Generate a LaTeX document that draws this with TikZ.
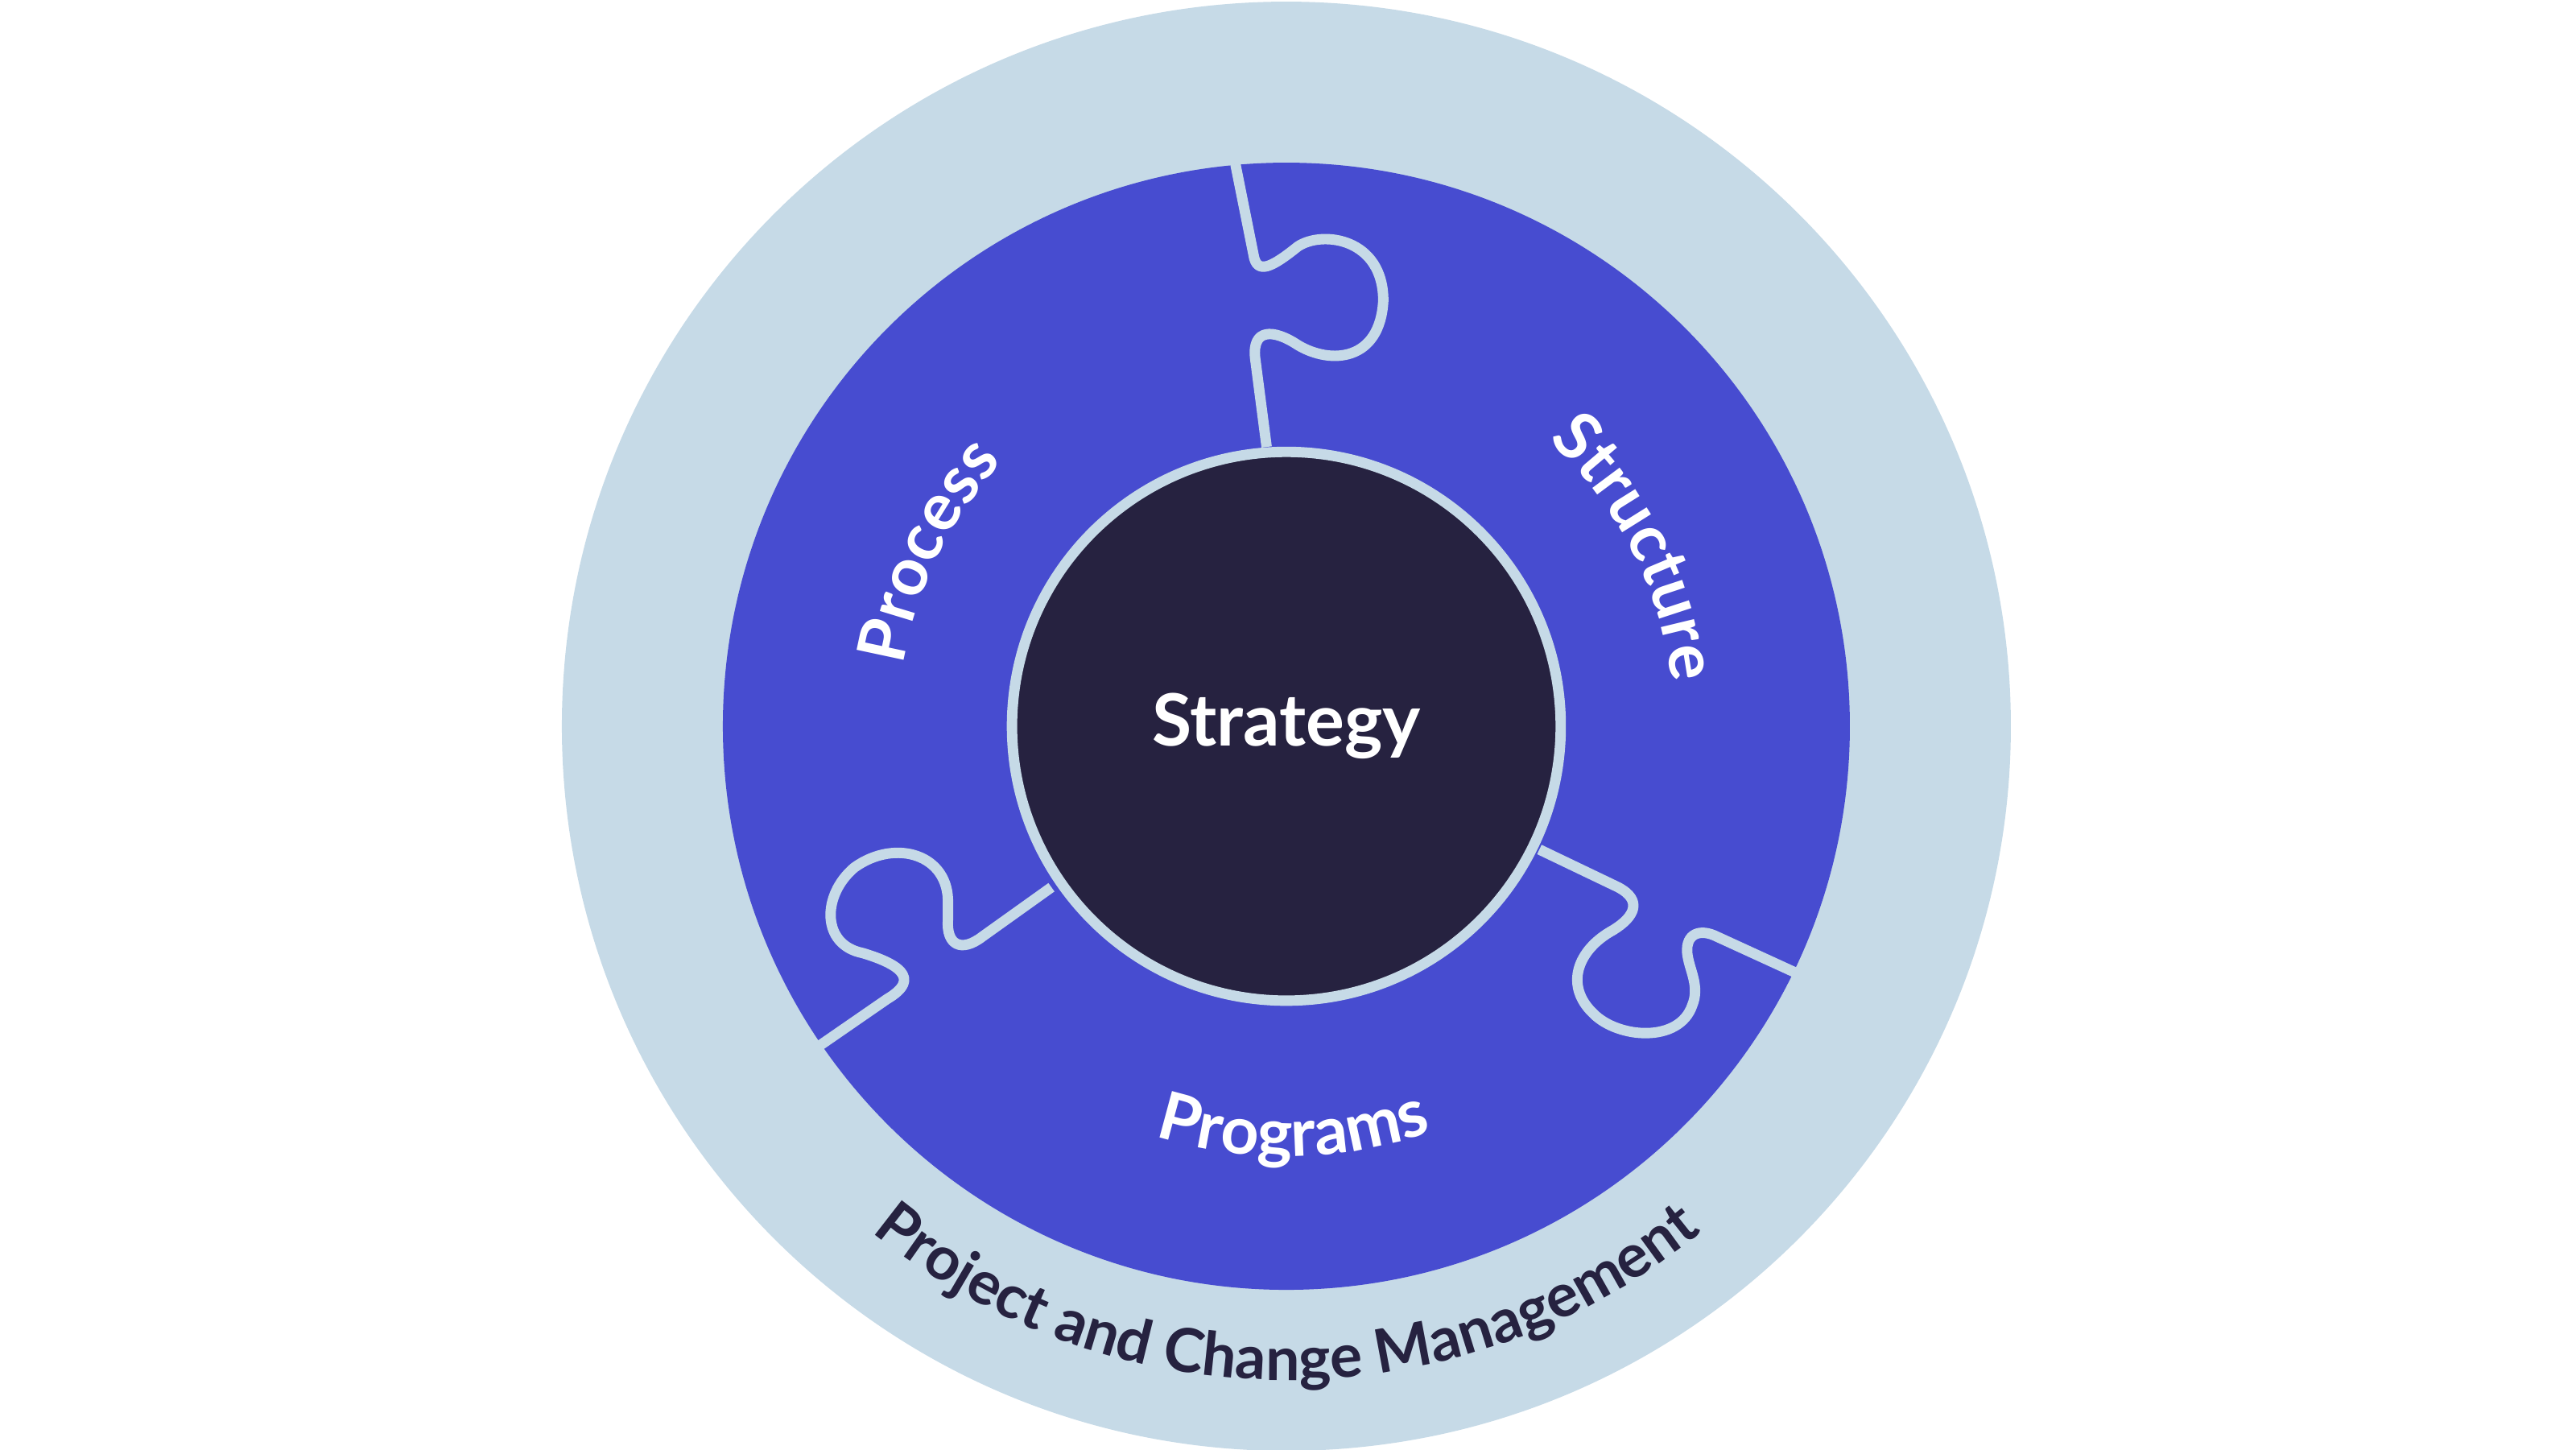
\documentclass[tikz,border=0pt]{standalone}
\usepackage{fontspec}
\setmainfont{Lato}
\usetikzlibrary{decorations.text}
\definecolor{ringc}{HTML}{C6DAE7}
\definecolor{bluec}{HTML}{474CD0}
\definecolor{darkc}{HTML}{262240}
\tikzset{seam/.style={draw=ringc,line width=1.8pt,line join=round},
arclabel/.style={decorate,decoration={text along path,text align=center,text={#1}}}}
\begin{document}
\begin{tikzpicture}[x=0.1mm,y=-0.1mm]
\useasboundingbox (0,0) rectangle (1568,882);
\coordinate (C) at (783,442);
\fill[ringc] (C) circle[radius=441];
\fill[bluec] (C) circle[radius=343];
\draw[seam] (752,100) -- (763,155) .. controls (765,168) and (775,162) .. (790,150) .. controls (805,140) and (842,145) .. (842,183) .. controls (840,220) and (810,222) .. (790,210) .. controls (775,200) and (762,200) .. (764,218) -- (771,272);
\draw[seam] (640,540) -- (598,570) .. controls (585,580) and (576,575) .. (577,560) -- (577,550) .. controls (578,520) and (545,510) .. (520,528) .. controls (500,545) and (500,575) .. (525,580) .. controls (545,586) and (562,595) .. (540,608) -- (498,637);
\draw[seam] (937,517) -- (985,540) .. controls (1000,548) and (995,558) .. (982,566) .. controls (960,578) and (952,600) .. (970,617) .. controls (985,632) and (1022,635) .. (1030,612) .. controls (1035,600) and (1028,590) .. (1027,580) .. controls (1026,568) and (1035,565) .. (1045,570) -- (1093,592);
\node[circle,fill=darkc,draw=ringc,line width=1.8pt,minimum size=334*0.1mm,inner sep=0pt,text=white,font=\bfseries\fontsize{12.5}{14}\selectfont] (strategy) at (C) {Strategy};
\begin{scope}[y=0.1mm]
\path[arclabel={|\bfseries\fontsize{11.5}{13}\selectfont\color{white}|Process}] (C) ++(174:236) arc[start angle=174,end angle=134,radius=236];
\path[arclabel={|\bfseries\fontsize{11.5}{13}\selectfont\color{white}|Structure}] (C) ++(50:236) arc[start angle=50,end angle=4,radius=236];
\path[arclabel={|\bfseries\fontsize{11.5}{13}\selectfont\color{white}|Programs}] (C) ++(250:262) arc[start angle=250,end angle=292,radius=262];
\path[arclabel={|\bfseries\fontsize{10.5}{12}\selectfont\color{darkc}|Project and Change Management}] (C) ++(226:398) arc[start angle=226,end angle=314,radius=398];
\end{scope}
\end{tikzpicture}
\end{document}
